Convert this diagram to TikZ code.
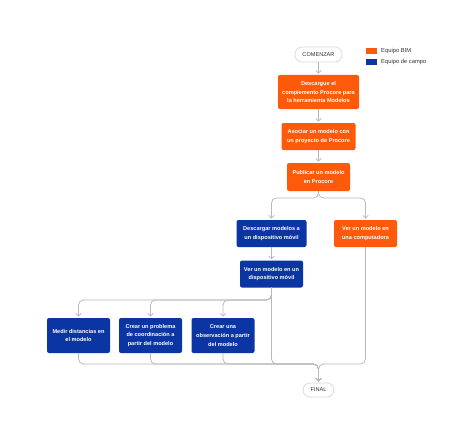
\documentclass[tikz,border=0pt]{standalone}
\usepackage{fontspec}
\setmainfont{Liberation Sans}
\usetikzlibrary{arrows.meta}
\definecolor{bim}{HTML}{FF5A0A}
\definecolor{campo}{HTML}{0B35A3}
\definecolor{linegray}{HTML}{B8B8B8}
\definecolor{pillgray}{HTML}{DADADA}
\definecolor{textgray}{HTML}{333333}
\begin{document}
\begin{tikzpicture}[x=1pt,y=-1pt,
  boxtxt/.style={font=\fontsize{5.6}{8.7}\selectfont\bfseries, text=white, align=center},
  bimbox/.style={boxtxt, fill=bim, rounded corners=2pt, inner sep=0pt},
  campobox/.style={boxtxt, fill=campo, rounded corners=2pt, inner sep=0pt},
  pill/.style={draw=pillgray, line width=0.8pt, fill=white, rounded corners=7pt,
    font=\fontsize{5.6}{7}\selectfont, text=textgray, inner sep=0pt},
  legendtxt/.style={font=\fontsize{5.8}{7}\selectfont, text=textgray, anchor=west, inner sep=0pt},
  conn/.style={draw=linegray, line width=0.75pt, rounded corners=5pt},
  flow/.style={conn, -{Straight Barb[length=2.6pt,width=5.5pt,line width=0.75pt]}, shorten >=1.2pt}
]
\useasboundingbox[fill=white] (0,0) rectangle (474,444);

% start and end
\node[pill, minimum width=47, minimum height=15] (start) at (318.5,54.5) {COMENZAR};
\node[pill, minimum width=31, minimum height=14] (final) at (318.5,390) {FINAL};

% legend
\node[fill=bim, minimum width=11, minimum height=6, inner sep=0pt] (lbim) at (371.5,51) {};
\node[legendtxt] (lbimtxt) at (381,51) {Equipo BIM};
\node[fill=campo, minimum width=11, minimum height=6, inner sep=0pt] (lcampo) at (371.5,62) {};
\node[legendtxt] (lcampotxt) at (381,62) {Equipo de campo};

% steps
\node[bimbox, minimum width=81, minimum height=34] (b1) at (318.5,92)
  {Descargue el\\complemento Procore para\\la herramienta Modelos};
\node[bimbox, minimum width=74, minimum height=27] (b2) at (318.5,136.5)
  {Asociar un modelo con\\un proyecto de Procore};
\node[bimbox, minimum width=63, minimum height=28] (b3) at (318.5,177)
  {Publicar un modelo\\en Procore};
\node[campobox, minimum width=70, minimum height=27] (b4) at (271.5,233.5)
  {Descargar modelos a\\un dispositivo móvil};
\node[bimbox, minimum width=63, minimum height=27] (b5) at (365.5,233.5)
  {Ver un modelo en\\una computadora};
\node[campobox, minimum width=63, minimum height=27] (b6) at (271.5,274)
  {Ver un modelo en un\\dispositivo móvil};
\node[campobox, minimum width=63, minimum height=35] (b7) at (78.5,335.5)
  {Medir distancias en\\el modelo};
\node[campobox, minimum width=63, minimum height=35] (b8) at (150.5,335.5)
  {Crear un problema\\de coordinación a\\partir del modelo};
\node[campobox, minimum width=63, minimum height=35] (b9) at (223,335.5)
  {Crear una\\observación a partir\\del modelo};

% junction levels
\coordinate (split) at (0,198);
\coordinate (fan) at (0,300);
\coordinate (merge) at (318.5,364);

% main chain
\draw[flow] (start.south) -- (b1.north);
\draw[flow] (b1.south) -- (b2.north);
\draw[flow] (b2.south) -- (b3.north);
\draw[flow] (b3.south) -- (b3.south |- split) -| (b4.north);
\draw[flow] (b3.south) -- (b3.south |- split) -| (b5.north);
\draw[flow] (b4.south) -- (b6.north);
\draw[flow] (b6.south) -- (b6.south |- fan) -| (b7.north);
\draw[flow] (b6.south) -- (b6.south |- fan) -| (b8.north);
\draw[flow] (b6.south) -- (b6.south |- fan) -| (b9.north);

% merge into the end
\draw[flow] (b7.south) |- (merge) -- (final.north);
\draw[flow] (b8.south) |- (merge) -- (final.north);
\draw[flow] (b9.south) |- (merge) -- (final.north);
\draw[flow] (b6.south) |- (merge) -- (final.north);
\draw[flow] (b5.south) |- (merge) -- (final.north);
\end{tikzpicture}
\end{document}
